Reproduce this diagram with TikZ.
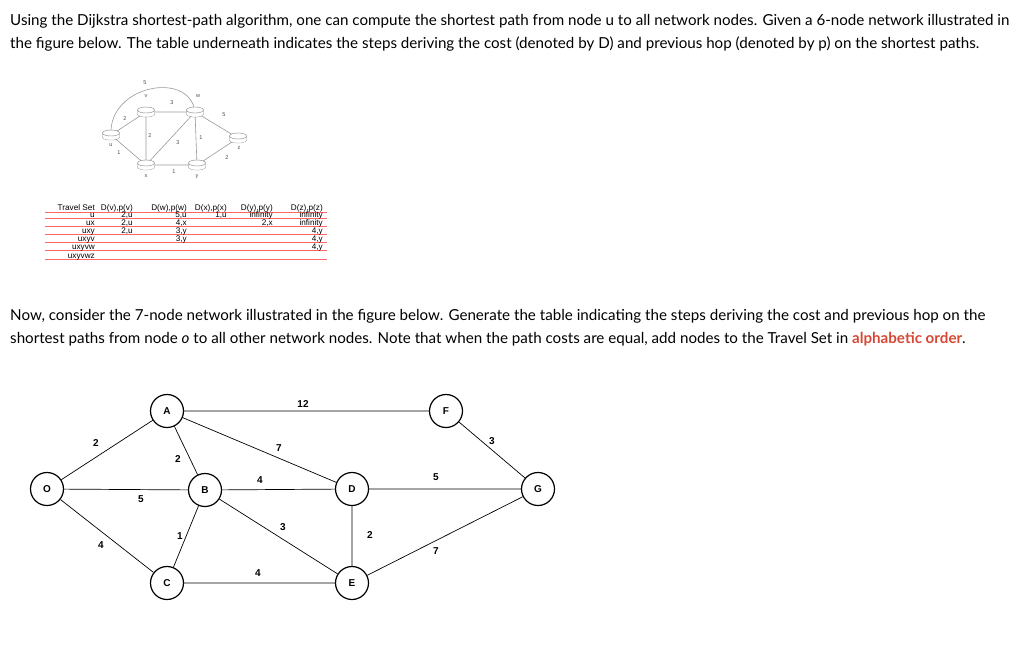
\documentclass[tikz,border=0pt]{standalone}
\usepackage{fontspec}
\usetikzlibrary{shapes.geometric,calc}
\setmainfont{Lato}
\newfontfamily\arialf{Liberation Sans}
\begin{document}
\begin{tikzpicture}[x=1pt,y=-1pt,
  txt/.style={anchor=base west,inner sep=0pt,font=\fontsize{15.15}{17}\selectfont},
  rt/.style={draw=gray,fill=white,ellipse,minimum width=17pt,minimum height=6pt,inner sep=0pt},
  sl/.style={font=\arialf\fontsize{5.5}{6}\selectfont,inner sep=0pt,text=gray!60!black},
  se/.style={draw=gray!80,line width=0.6pt},
  tb/.style={font=\arialf\fontsize{8.2}{9}\selectfont,inner sep=0pt,anchor=base east},
  rl/.style={draw=red!60!white,line width=0.5pt},
  nd/.style={circle,draw,line width=1.2pt,fill=white,minimum size=33pt,inner sep=0pt,font=\arialf\bfseries\fontsize{10}{11}\selectfont},
  ed/.style={line width=0.7pt},
  el/.style={font=\arialf\bfseries\fontsize{10}{11}\selectfont,inner sep=0pt}]
\useasboundingbox (0,0) rectangle (1024,653);
\node[txt] (t1) at (10,25) {Using the Dijkstra shortest-path algorithm, one can compute the shortest path from node u to all network nodes. Given a 6-node network illustrated in};
\node[txt] (t2) at (10,48) {the figure below. The table underneath indicates the steps deriving the cost (denoted by D) and previous hop (denoted by p) on the shortest paths.};
\node[txt] (t3) at (10,320) {Now, consider the 7-node network illustrated in the figure below. Generate the table indicating the steps deriving the cost and previous hop on the};
\node[txt] (t4) at (10,343) {shortest paths from node \textit{o} to all other network nodes. Note that when the path costs are equal, add nodes to the Travel Set in \textcolor[RGB]{214,72,52}{\textbf{alphabetic order}}.};
% small network
\coordinate (u) at (111,135); \coordinate (v) at (146,112); \coordinate (w) at (195,112);
\coordinate (z) at (238,138); \coordinate (x) at (146,165); \coordinate (y) at (197,165);
\draw[se] (u) .. controls (108,85) and (190,70) .. (w);
\draw[se] (u)--(v) (u)--(x) (v)--(w) (v)--(x) (x)--(w) (w)--(y) (w)--(z) (x)--(y) (y)--(z);
\foreach \n in {u,v,w,z,x,y} {
  \fill[white] ($(\n)+(-8.5,-2)$) rectangle ($(\n)+(8.5,2)$);
  \draw[gray] ($(\n)+(-8.5,-2)$) -- ++(0,4) arc[start angle=180,end angle=0,x radius=8.5,y radius=3] -- ++(0,-4);
  \fill[white] ($(\n)+(0,2)$) ellipse[x radius=8.2,y radius=2.7];
  \node[rt] (r\n) at ($(\n)+(0,-2)$) {};}
\node[sl] (l1) at (145,83) {5}; \node[sl] (l2) at (146,96) {v}; \node[sl] (l3) at (198,96) {w};
\node[sl] (l4) at (172,103) {3}; \node[sl] (l5) at (224,115) {5}; \node[sl] (l6) at (125,119) {2};
\node[sl] (l7) at (150,136) {2}; \node[sl] (l8) at (178,143) {3}; \node[sl] (l9) at (201,138) {1};
\node[sl] (l10) at (111,145) {u}; \node[sl] (l11) at (119,153) {1}; \node[sl] (l12) at (239,148) {z};
\node[sl] (l13) at (227,158) {2}; \node[sl] (l14) at (146,176) {x}; \node[sl] (l15) at (174,172) {1};
\node[sl] (l16) at (197,177) {y};
% table
\foreach \yy in {212,218,226,234,242,250,259} {\draw[rl] (45,\yy) -- (327,\yy);}
\node[tb] (h0) at (95,210) {Travel Set}; \node[tb] (h1) at (133,210) {D(v),p(v)};
\node[tb] (h2) at (187,210) {D(w),p(w)}; \node[tb] (h3) at (227,210) {D(x),p(x)};
\node[tb] (h4) at (273,210) {D(y),p(y)}; \node[tb] (h5) at (323,210) {D(z),p(z)};
\node[tb] (a0) at (95,217) {u}; \node[tb] (a1) at (133,217) {2,u}; \node[tb] (a2) at (187,217) {5,u};
\node[tb] (a3) at (227,217) {1,u}; \node[tb] (a4) at (273,217) {infinity}; \node[tb] (a5) at (323,217) {infinity};
\node[tb] (b0) at (95,225) {ux}; \node[tb] (b1) at (133,225) {2,u}; \node[tb] (b2) at (187,225) {4,x};
\node[tb] (b4) at (273,225) {2,x}; \node[tb] (b5) at (323,225) {infinity};
\node[tb] (c0) at (95,233) {uxy}; \node[tb] (c1) at (133,233) {2,u}; \node[tb] (c2) at (187,233) {3,y};
\node[tb] (c5) at (323,233) {4,y};
\node[tb] (d0) at (95,241) {uxyv}; \node[tb] (d2) at (187,241) {3,y}; \node[tb] (d5) at (323,241) {4,y};
\node[tb] (e0) at (95,249) {uxyvw}; \node[tb] (e5) at (323,249) {4,y};
\node[tb] (f0) at (95,258) {uxyvwz};
% main graph
\node[nd] (O) at (47,489) {O}; \node[nd] (A) at (167,411) {A}; \node[nd] (B) at (205,490) {B};
\node[nd] (C) at (167,583) {C}; \node[nd] (D) at (352,489) {D}; \node[nd] (E) at (352,583) {E};
\node[nd] (F) at (446,411) {F}; \node[nd] (G) at (538,489) {G};
\draw[ed] (O)--(A) (O)--(B) (O)--(C) (A)--(B) (A)--(F) (A)--(D) (B)--(D) (B)--(E) (C)--(B) (C)--(E) (D)--(G) (D)--(E) (F)--(G) (E)--(G);
\node[el] (w1) at (96,443) {2}; \node[el] (w2) at (141,499) {5}; \node[el] (w3) at (101,545) {4};
\node[el] (w4) at (178,459) {2}; \node[el] (w5) at (303,404) {12}; \node[el] (w6) at (279,448) {7};
\node[el] (w7) at (260,480) {4}; \node[el] (w8) at (283,527) {3}; \node[el] (w9) at (180,536) {1};
\node[el] (w10) at (258,573) {4}; \node[el] (w11) at (436,477) {5}; \node[el] (w12) at (370,535) {2};
\node[el] (w13) at (492,441) {3}; \node[el] (w14) at (436,551) {7};
\end{tikzpicture}
\end{document}
